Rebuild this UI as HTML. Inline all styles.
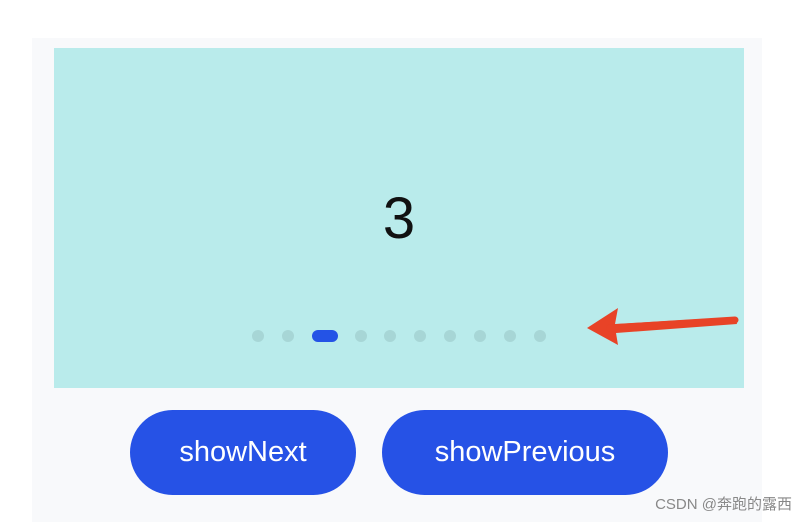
<!DOCTYPE html>
<html><head><style>
body{margin:0;width:808px;height:522px;background:#fff;position:relative;overflow:hidden;font-family:"Liberation Sans",sans-serif}
.panel{position:absolute;left:32px;top:38px;width:730px;height:484px;background:#f8f9fb}
.box{position:absolute;left:54px;top:48px;width:690px;height:340px;background:#b9ebeb}
.num{position:absolute;left:54px;width:690px;top:188px;text-align:center;font-size:58px;color:#111;line-height:62px}
.dot{position:absolute;top:330px;width:12px;height:12px;border-radius:6px;background:#a7d6d6}
.pill{position:absolute;top:330px;left:312px;width:26px;height:12px;border-radius:6px;background:#2453e6}
.btn{position:absolute;top:410px;height:85px;border-radius:43px;background:#2652e6;color:#fff;font-size:29px;text-align:center;line-height:85px}
.wm{position:absolute;right:16px;bottom:8px;font-size:15px;color:#888;font-family:"Liberation Sans","Noto Sans CJK SC",sans-serif}
</style></head><body>
<div class="panel"></div>
<div class="box"></div>
<div class="num">3</div>
<div class="dot" style="left:252px"></div>
<div class="dot" style="left:282px"></div>
<div class="pill"></div>
<div class="dot" style="left:355px"></div>
<div class="dot" style="left:384px"></div>
<div class="dot" style="left:414px"></div>
<div class="dot" style="left:444px"></div>
<div class="dot" style="left:474px"></div>
<div class="dot" style="left:504px"></div>
<div class="dot" style="left:534px"></div>
<svg style="position:absolute;left:0;top:0" width="808" height="522">
<polygon points="587,328 618,308 615,324 735,317 737,324 616,333 618,345" fill="#e84327"/>
<line x1="610" y1="328" x2="735" y2="320" stroke="#e84327" stroke-width="7" stroke-linecap="round"/>
</svg>
<div class="btn" style="left:130px;width:226px">showNext</div>
<div class="btn" style="left:382px;width:286px">showPrevious</div>
<div class="wm">CSDN @奔跑的露西</div>
</body></html>
